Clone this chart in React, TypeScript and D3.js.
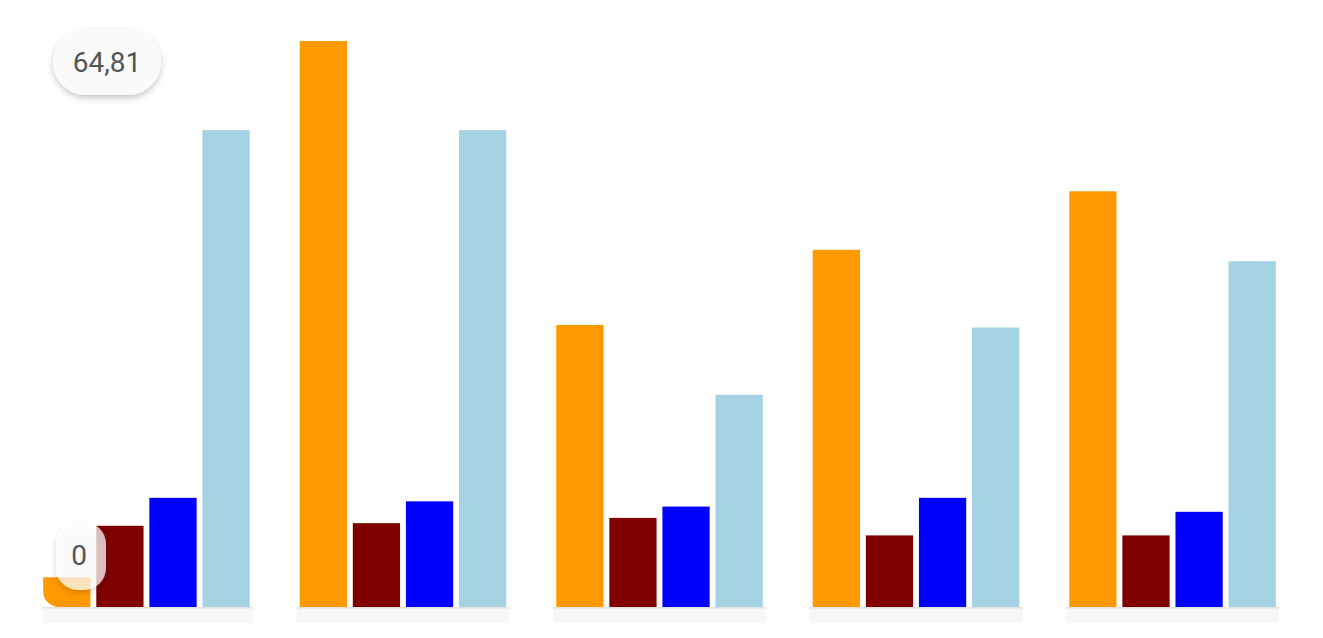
import React from "react";
import * as d3 from "d3";

const groups = ["G1", "G2", "G3", "G4", "G5"];
const series = ["orange", "darkred", "blue", "lightblue"];
const orangeValues = [3.4, 64.81, 32.3, 40.9, 47.6];
const darkRedValues = [9.3, 9.6, 10.2, 8.2, 8.2];
const blueValues = [12.5, 12.1, 11.5, 12.5, 10.9];
const lightBlueValues = [54.6, 54.6, 24.3, 32.0, 39.6];
const colors = ["#ff9900", "#800000", "#0000ff", "#a4d2e1"];
const maxLabel = "64,81";
const minLabel = "0";

export default function App() {
  const W = 1323;
  const H = 638;
  const x0 = d3.scaleBand<string>().domain(groups).range([40, 1279]).paddingInner(0.17);
  const x1 = d3
    .scaleBand<string>()
    .domain(series)
    .range([0, x0.bandwidth()])
    .paddingInner(0.11)
    .paddingOuter(0.06);
  const y = d3.scaleLinear().domain([0, 64.81]).range([607, 41]);
  const valueSets = [orangeValues, darkRedValues, blueValues, lightBlueValues];

  return (
    <svg
      width={W}
      height={H}
      style={{ position: "absolute", left: 0, top: 0, background: "#fff" }}
      fontFamily="Roboto, sans-serif"
    >
      <defs>
        <clipPath id="barClip">
          <rect x={43} y={-50} width={1300} height={657} rx={16} />
        </clipPath>
        <clipPath id="bandClip">
          <rect x={43} y={0} width={1300} height={H} />
        </clipPath>
        <filter id="shadow" x="-30%" y="-30%" width="160%" height="180%">
          <feDropShadow dx={0} dy={3} stdDeviation={3} floodColor="#000" floodOpacity={0.22} />
        </filter>
      </defs>
      <g clipPath="url(#bandClip)">
        {groups.map((g) => (
          <g key={g} transform={`translate(${x0(g)},0)`}>
            <rect x={0} y={608} width={x0.bandwidth()} height={15} fill="#f7f7f7" />
            <rect x={0} y={607} width={x0.bandwidth()} height={1.5} fill="#e2e2e2" />
          </g>
        ))}
      </g>
      <g clipPath="url(#barClip)">
        {groups.map((g, gi) => (
          <g key={g} transform={`translate(${x0(g)},0)`}>
            {series.map((s, si) => {
              const v = valueSets[si][gi];
              return (
                <rect
                  key={s}
                  x={x1(s)}
                  y={y(v)}
                  width={x1.bandwidth()}
                  height={y(0) - y(v)}
                  fill={colors[si]}
                />
              );
            })}
          </g>
        ))}
      </g>
      <g filter="url(#shadow)">
        <rect x={53} y={29} width={108} height={66} rx={33} fill="#fafafa" />
      </g>
      <text x={107} y={62} textAnchor="middle" dominantBaseline="central" fontSize={28} fill="#555">
        {maxLabel}
      </text>
      <g filter="url(#shadow)">
        <rect x={56} y={522} width={50} height={68} rx={22} fill="#ffffff" fillOpacity={0.72} />
      </g>
      <text x={79} y={555} textAnchor="middle" dominantBaseline="central" fontSize={28} fill="#555">
        {minLabel}
      </text>
    </svg>
  );
}
